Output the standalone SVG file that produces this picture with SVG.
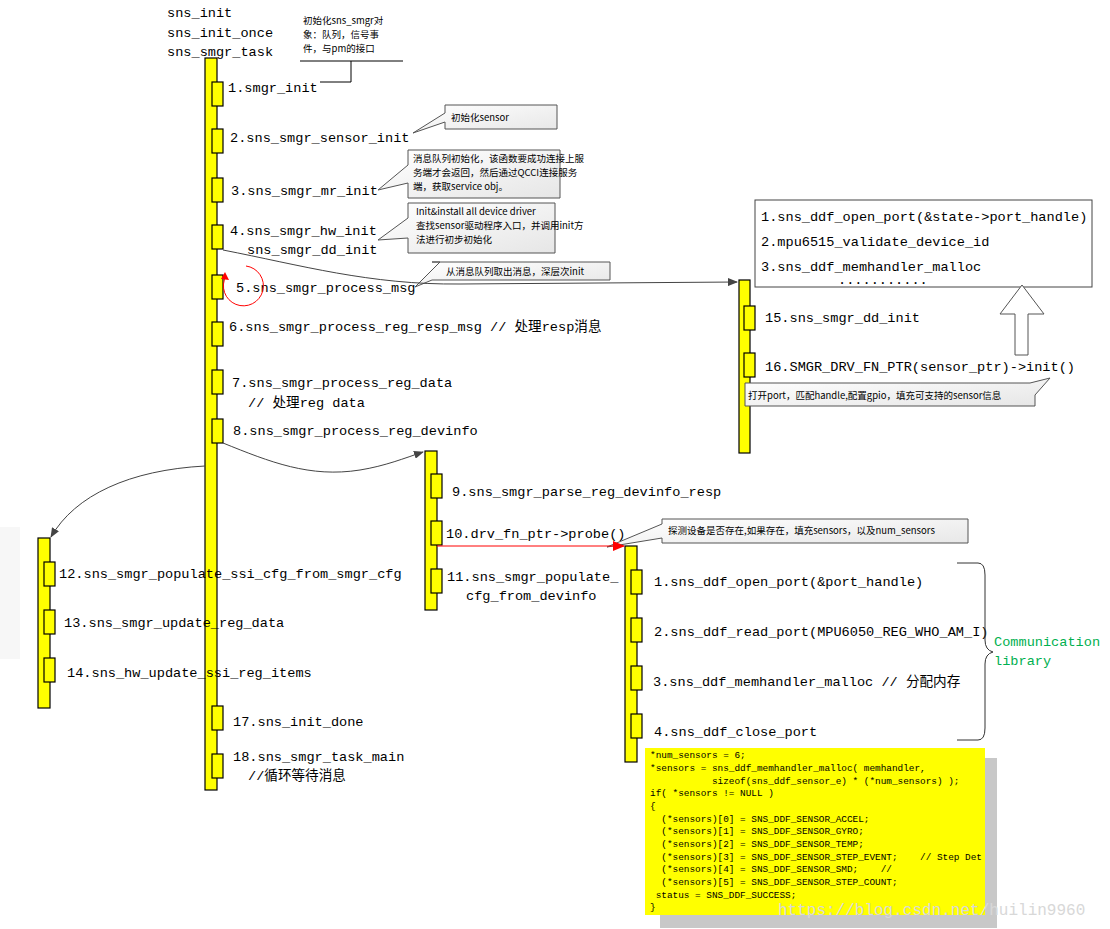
<svg xmlns="http://www.w3.org/2000/svg" width="1110" height="929" viewBox="0 0 1110 929">
<defs>
<linearGradient id="cg" x1="0" y1="0" x2="1" y2="1"><stop offset="0" stop-color="#ffffff"/><stop offset="1" stop-color="#e6e6e6"/></linearGradient>
<marker id="ah" markerWidth="10" markerHeight="8" refX="9" refY="4" orient="auto" markerUnits="userSpaceOnUse"><path d="M0,0 L10,4 L0,8 Z" fill="#444"/></marker>
<marker id="rh" markerWidth="12" markerHeight="10" refX="11" refY="5" orient="auto" markerUnits="userSpaceOnUse"><path d="M0,0 L12,5 L0,10 Z" fill="#ff0000"/></marker>
</defs>
<style>
.life{fill:#ffff00;stroke:#000;stroke-width:1.2}
.act{fill:#ffff00;stroke:#000;stroke-width:1.2}
.t{font-family:"Liberation Mono","Noto Sans CJK SC",monospace;font-size:13.6px;fill:#000}
.n{font-family:"Noto Sans CJK SC","Noto Sans",sans-serif;font-size:9.5px;fill:#000}
.call{fill:url(#cg);stroke:#555;stroke-width:1}
.code{font-family:"Liberation Mono",monospace;font-size:9.4px;fill:#000;white-space:pre}
.con{fill:none;stroke:#444;stroke-width:1}
</style>
<rect x="0" y="527" width="20" height="132" fill="#f7f7f7"/>
<g id="header">
<text class="t" x="167" y="17">sns_init</text>
<text class="t" x="167" y="37">sns_init_once</text>
<text class="t" x="167" y="56">sns_smgr_task</text>
</g>
<g id="note1">
<text class="n" x="303" y="24">初始化sns_smgr对</text>
<text class="n" x="303" y="38">象：队列，信号事</text>
<text class="n" x="303" y="52">件，与pm的接口</text>
<path d="M300,61 H403 M351,61 V82 H320" fill="none" stroke="#000" stroke-width="1"/>
</g>
<g id="main">
<rect class="life" x="205" y="58" width="12" height="732"/>
<rect class="act" x="212" y="82" width="11" height="24"/>
<rect class="act" x="212" y="129" width="11" height="24"/>
<rect class="act" x="212" y="178" width="11" height="24"/>
<rect class="act" x="212" y="225" width="11" height="24"/>
<rect class="act" x="212" y="275" width="11" height="24"/>
<rect class="act" x="212" y="322" width="11" height="24"/>
<rect class="act" x="212" y="370" width="11" height="24"/>
<rect class="act" x="212" y="419" width="11" height="24"/>
<rect class="act" x="212" y="706" width="11" height="24"/>
<rect class="act" x="212" y="754" width="11" height="24"/>
<text class="t" x="228" y="92">1.smgr_init</text>
<text class="t" x="230" y="142">2.sns_smgr_sensor_init</text>
<text class="t" x="231" y="195">3.sns_smgr_mr_init</text>
<text class="t" x="230" y="235">4.sns_smgr_hw_init</text>
<text class="t" x="247" y="254">sns_smgr_dd_init</text>
<text class="t" x="236" y="292">5.sns_smgr_process_msg</text>
<text class="t" x="229" y="331">6.sns_smgr_process_reg_resp_msg // 处理resp消息</text>
<text class="t" x="232" y="387">7.sns_smgr_process_reg_data</text>
<text class="t" x="248" y="407">// 处理reg data</text>
<text class="t" x="233" y="435">8.sns_smgr_process_reg_devinfo</text>
<text class="t" x="233" y="726">17.sns_init_done</text>
<text class="t" x="233" y="761">18.sns_smgr_task_main</text>
<text class="t" x="248" y="780">//循环等待消息</text>
</g>
<g id="left">
<rect class="life" x="38" y="538" width="12" height="170"/>
<rect class="act" x="44" y="562" width="11" height="24"/>
<rect class="act" x="44" y="610" width="11" height="24"/>
<rect class="act" x="44" y="658" width="11" height="24"/>
<text class="t" x="59" y="578">12.sns_smgr_populate_ssi_cfg_from_smgr_cfg</text>
<text class="t" x="64" y="627">13.sns_smgr_update_reg_data</text>
<text class="t" x="67" y="677">14.sns_hw_update_ssi_reg_items</text>
</g>
<g id="mid">
<rect class="life" x="425" y="451" width="12" height="159"/>
<rect class="act" x="431" y="474" width="11" height="24"/>
<rect class="act" x="431" y="521" width="11" height="24"/>
<rect class="act" x="431" y="569" width="11" height="24"/>
<text class="t" x="452" y="496">9.sns_smgr_parse_reg_devinfo_resp</text>
<text class="t" x="446" y="538">10.drv_fn_ptr->probe()</text>
<text class="t" x="447" y="581">11.sns_smgr_populate_</text>
<text class="t" x="466" y="600">cfg_from_devinfo</text>
</g>
<g id="probe">
<rect class="life" x="625" y="546" width="12" height="216"/>
<rect class="act" x="631" y="570" width="11" height="24"/>
<rect class="act" x="631" y="618" width="11" height="24"/>
<rect class="act" x="631" y="666" width="11" height="24"/>
<rect class="act" x="631" y="714" width="11" height="24"/>
<text class="t" x="654" y="586">1.sns_ddf_open_port(&amp;port_handle)</text>
<text class="t" x="654" y="636">2.sns_ddf_read_port(MPU6050_REG_WHO_AM_I)</text>
<text class="t" x="653" y="686">3.sns_ddf_memhandler_malloc // 分配内存</text>
<text class="t" x="654" y="736">4.sns_ddf_close_port</text>
<path d="M957,563 H978 Q985,563 985,575 V640 Q985,650 993,652 Q985,654 985,664 V728 Q985,740 978,740 H957" fill="none" stroke="#333" stroke-width="1"/>
<text x="994" y="646" font-family="Liberation Mono,monospace" font-size="13.6px" fill="#00b050">Communication</text>
<text x="994" y="665" font-family="Liberation Mono,monospace" font-size="13.6px" fill="#00b050">library</text>
</g>
<g id="ddinit">
<rect class="life" x="739" y="280" width="11" height="173"/>
<rect class="act" x="744" y="306" width="11" height="24"/>
<rect class="act" x="744" y="353" width="11" height="24"/>
<text class="t" x="765" y="322">15.sns_smgr_dd_init</text>
<text class="t" x="765" y="371">16.SMGR_DRV_FN_PTR(sensor_ptr)->init()</text>
</g>
<g id="initbox">
<rect x="755" y="200" width="337" height="87" fill="#fff" stroke="#444" stroke-width="1"/>
<text class="t" x="761" y="221">1.sns_ddf_open_port(&amp;state->port_handle)</text>
<text class="t" x="761" y="246">2.mpu6515_validate_device_id</text>
<text class="t" x="761" y="271">3.sns_ddf_memhandler_malloc</text>
<text class="t" x="838" y="284">...........</text>
<path d="M1015,355 V314 H1000 L1022,285 L1044,314 H1028 V355 Z" fill="#fff" stroke="#555" stroke-width="1"/>
</g>
<g id="codebox">
<rect x="660" y="758" width="337" height="170" fill="#c8c8c8"/>
<rect x="645" y="748" width="340" height="167" fill="#ffff00"/>
<text class="code" x="650" y="758">*num_sensors = 6;</text>
<text class="code" x="650" y="771">*sensors = sns_ddf_memhandler_malloc( memhandler,</text>
<text class="code" x="650" y="784">           sizeof(sns_ddf_sensor_e) * (*num_sensors) );</text>
<text class="code" x="650" y="796">if( *sensors != NULL )</text>
<text class="code" x="650" y="809">{</text>
<text class="code" x="650" y="822">  (*sensors)[0] = SNS_DDF_SENSOR_ACCEL;</text>
<text class="code" x="650" y="834">  (*sensors)[1] = SNS_DDF_SENSOR_GYRO;</text>
<text class="code" x="650" y="847">  (*sensors)[2] = SNS_DDF_SENSOR_TEMP;</text>
<text class="code" x="650" y="860">  (*sensors)[3] = SNS_DDF_SENSOR_STEP_EVENT;    // Step Det</text>
<text class="code" x="650" y="872">  (*sensors)[4] = SNS_DDF_SENSOR_SMD;    //</text>
<text class="code" x="650" y="885">  (*sensors)[5] = SNS_DDF_SENSOR_STEP_COUNT;</text>
<text class="code" x="650" y="898"> status = SNS_DDF_SUCCESS;</text>
<text class="code" x="650" y="910">}</text>
</g>
<g id="callouts">
<path class="call" d="M445,105 H557 V129 H445 V122 L413,133 L445,113 Z"/>
<text class="n" x="451" y="121">初始化sensor</text>
<path class="call" d="M408,150 H560 V198 H408 V183 L378,190 L408,165 Z"/>
<text class="n" x="413" y="162">消息队列初始化，该函数要成功连接上服</text>
<text class="n" x="413" y="176">务端才会返回，然后通过QCCI连接服务</text>
<text class="n" x="413" y="190">端，获取service obj。</text>
<path class="call" d="M408,203 H555 V253 H408 V238 L378,240 L408,218 Z"/>
<text class="n" x="416" y="215">Init&amp;install all device driver</text>
<text class="n" x="416" y="229">查找sensor驱动程序入口，并调用init方</text>
<text class="n" x="416" y="243">法进行初步初始化</text>
<path class="call" d="M432,262 H610 V280 H432 L415,287 L440,262 Z"/>
<text class="n" x="446" y="275">从消息队列取出消息，深层次init</text>
<path class="call" d="M745,383 H1030 L1050,378 L1035,395 V406 H745 Z"/>
<text class="n" x="748" y="399">打开port，匹配handle,配置gpio，填充可支持的sensor信息</text>
<path class="call" d="M662,519 H968 V543 H662 V538 L607,547 L662,524 Z"/>
<text class="n" x="668" y="534">探测设备是否存在,如果存在，填充sensors，以及num_sensors</text>
</g>
<g id="connectors">
<path class="con" d="M223,250 C300,265 370,285 460,284 L737,282" marker-end="url(#ah)"/>
<path class="con" d="M223,443 C270,462 310,478 360,470 C385,466 405,458 423,452" marker-end="url(#ah)"/>
<path class="con" d="M205,466 C130,470 75,495 51,537" marker-end="url(#ah)"/>
<path d="M437,546 L624,546" stroke="#ff0000" stroke-width="1" fill="none" marker-end="url(#rh)"/>
<path d="M226,276 A20,20 0 1 0 246,266" stroke="#ff0000" stroke-width="1" fill="none"/>
<path d="M221,279 L225,272 L229,280 Z" fill="#ff0000"/>
</g>
<text x="778" y="915" font-family="Liberation Mono,monospace" font-size="16px" fill="#d8d8d8">https://blog.csdn.net/huilin9960</text>
</svg>
